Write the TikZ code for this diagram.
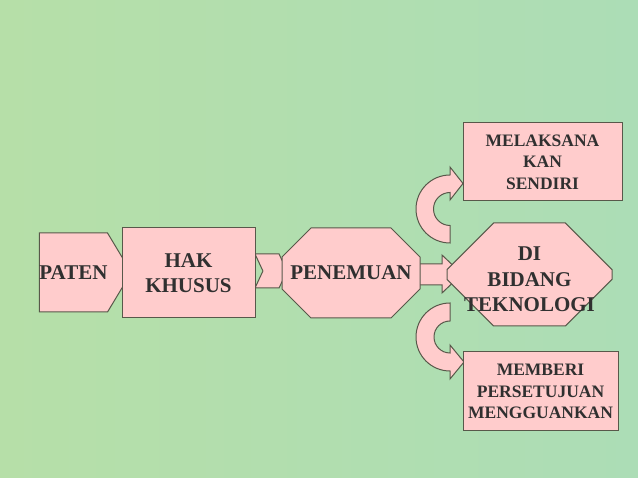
\documentclass[tikz,border=0pt]{standalone}
\usepackage{fontspec}
\setmainfont{Liberation Serif}
\usetikzlibrary{shapes.misc, shapes.symbols, calc}

\definecolor{boxpink}{RGB}{255,204,204}
\definecolor{edgegray}{RGB}{88,88,74}
\definecolor{txtgray}{RGB}{48,48,48}
\definecolor{bgleft}{RGB}{182,223,168}
\definecolor{bgright}{RGB}{172,221,182}

\pgfdeclarelayer{back}
\pgfdeclarelayer{behind}
\pgfsetlayers{back,behind,main}

\begin{document}
\begin{tikzpicture}[x=1pt, y=-1pt,
  pinkshape/.style={draw=edgegray, fill=boxpink, line width=1pt},
  box/.style={pinkshape, rectangle, inner sep=0pt, outer sep=0pt, align=center, text=txtgray},
  octbox/.style={box, chamfered rectangle, chamfered rectangle xsep=#1, chamfered rectangle ysep=#1},
  bigtext/.style={font=\fontsize{21}{25.5}\selectfont\bfseries},
  smalltext/.style={font=\fontsize{17.5}{21.5}\selectfont\bfseries}]

  % Background
  \begin{pgfonlayer}{back}
    \shade[left color=bgleft, right color=bgright] (0,0) rectangle (638,478);
  \end{pgfonlayer}
  \useasboundingbox (0,0) rectangle (638,478);

  % Boxes
  \node[box, signal, signal to=east, signal pointer angle=118,
        minimum width=83, minimum height=79, bigtext] (paten) at (73.5,272.5) {PATEN};
  \node[box, minimum width=133, minimum height=90, bigtext] (hak) at (188.5,273) {HAK\\KHUSUS};
  \node[octbox=22, minimum width=138, minimum height=90, bigtext] (penemuan) at (351,273) {PENEMUAN};
  \node[octbox=30, inner xsep=-16pt, inner ysep=-21pt, minimum width=165, minimum height=103, bigtext]
        (bidang) at (529.5,274.5) {\rule{0pt}{24pt}DI\\BIDANG\\TEKNOLOGI};
  \node[box, minimum width=159, minimum height=78, smalltext] (sendiri) at (542.5,162) {MELAKSANA\\KAN\\SENDIRI};
  \node[box, minimum width=155, minimum height=79, smalltext] (memberi) at (540.5,391.5) {MEMBERI\\PERSETUJUAN\\MENGGUANKAN};

  \begin{pgfonlayer}{behind}
    % Chevron between HAK KHUSUS and PENEMUAN
    \node[pinkshape, signal, signal from=west, signal to=east, signal pointer angle=130,
          minimum width=32, minimum height=34, inner sep=0pt] (chev)
          at ($(hak.east)!0.5!(penemuan.west)+(2.5,-2)$) {};

    % Block arrow from PENEMUAN to DI BIDANG
    \draw[pinkshape] ($(penemuan.east)+(-4,-9)$) -- ++(26,0) -- ++(0,-9) -- ++(20,19)
      -- ++(-20,19) -- ++(0,-8) -- ++(-26,0) -- ++(3,-10.5) -- cycle;

    % Curved arrow up to MELAKSANA KAN SENDIRI
    \coordinate (upc) at (450,209);
    \draw[pinkshape] (upc) ++(0,34) arc[start angle=90, end angle=270, radius=34]
      -- ++(0,-8) -- ($(sendiri.south west)+(0,-17.5)$) -- (450,200) -- (450,192.5)
      arc[start angle=270, end angle=90, radius=16.5] -- cycle;

    % Curved arrow down to MEMBERI PERSETUJUAN
    \coordinate (lowc) at (450,337);
    \draw[pinkshape] (lowc) ++(0,-34) arc[start angle=270, end angle=90, radius=34]
      -- ++(0,8) -- ($(memberi.north west)+(1,10)$) -- (450,345) -- (450,353)
      arc[start angle=90, end angle=270, radius=16] -- cycle;
  \end{pgfonlayer}
\end{tikzpicture}
\end{document}
